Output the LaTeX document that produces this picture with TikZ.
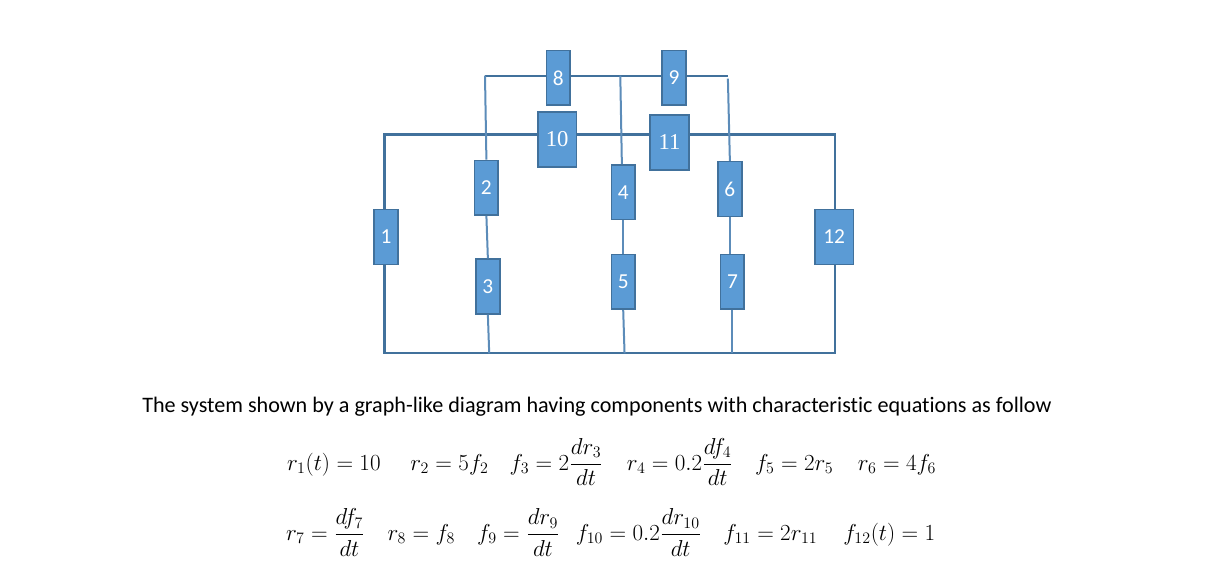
\documentclass[tikz,border=0pt]{standalone}
\usepackage{amsmath}
\usepackage{fontspec}
\setmainfont[Ligatures=NoCommon]{Carlito}
\newfontfamily\numserif{Liberation Serif}
\usepackage{tikz}
\usetikzlibrary{positioning}
\definecolor{dFill}{RGB}{91,155,213}
\definecolor{dLine}{RGB}{65,113,156}
\definecolor{dWire}{RGB}{92,140,185}
\tikzset{
  comp/.style={rectangle, draw=dLine, fill=dFill, line width=1.2pt, text=white,
               minimum height=41pt, minimum width=17.8pt, align=center,
               inner sep=0pt, font=\fontsize{16}{18}\selectfont},
  compw/.style={comp, minimum width=29pt, font=\fontsize{17}{19}\selectfont\numserif},
  wire/.style={draw=dLine, line width=1.6pt},
  wirel/.style={draw=dWire, line width=1.5pt},
  eqn/.style={inner sep=0pt, outer sep=0pt, font=\fontsize{17.8}{20}\selectfont},
  captxt/.style={inner sep=0pt, font=\fontsize{16.6}{20}\selectfont},
}
\begin{document}
\begin{tikzpicture}[x=0.75pt, y=-0.75pt]
  \useasboundingbox (0,0) rectangle (1214,574);
  \node[comp] (b1) at (386,237) {1};
  \node[comp, right=56.3pt of b1, yshift=37pt]    (b2) {2};
  \node[comp, below=32pt of b2, xshift=1.1pt]     (b3) {3};
  \node[comp, right=83.6pt of b2, yshift=-3.5pt]  (b4) {4};
  \node[comp, below=25pt of b4]                   (b5) {5};
  \node[comp, right=61pt of b4, yshift=2.5pt]     (b6) {6};
  \node[comp, below=27.5pt of b6, xshift=1.9pt]   (b7) {7};
  \node[compw, right=53.6pt of b6, yshift=-36pt, font=\fontsize{16}{18}\selectfont] (b12) {12};
  \node[compw, right=28.5pt of b2, yshift=36.2pt] (b10) {10};
  \node[compw, right=54.1pt of b10, yshift=-2.25pt] (b11) {11};
  \node[comp, above=4pt of b10, xshift=0.9pt]     (b8) {8};
  \node[comp, right=67.8pt of b8]                 (b9) {9};
  % frame corners
  \coordinate (tl) at (384.5,134.5);
  \coordinate (tr) at (834.7,134.5);
  \coordinate (bl) at (384.5,353.3);
  \coordinate (br) at (834.7,353.3);
  \coordinate (ul) at (485,75.7);
  \coordinate (um) at (620.3,75.7);
  \coordinate (ur) at (727.7,75.7);
  \coordinate (us) at (727.9,78.7);
  % outer loop
  \draw[wire] (b1.north -| tl) -- (tl) -- (tl -| b10.west);
  \draw[wire] (tl -| b10.east) -- (tl -| b11.west);
  \draw[wire] (tl -| b11.east) -- (tr) -- (tr |- b12.north);
  \draw[wire] (tl |- b1.south) -- (bl) -- (br) -- (br |- b12.south);
  % upper line
  \draw[wire] (ul) -- (ul -| b8.west);
  \draw[wire] (ul -| b8.east) -- (ul -| b9.west);
  \draw[wire] (ul -| b9.east) -- (ur);
  % branches
  \draw[wirel] (ul) -- (b2.north);
  \draw[wirel] (um) -- ([xshift=-1pt]b4.north);
  \draw[wirel] (us) -- (b6.north);
  \draw[wirel] (b2.south) -- (b3.north);
  \draw[wirel] ([xshift=-0.5pt]b4.south) -- ([xshift=-0.5pt]b5.north);
  \draw[wirel] (b6.south) -- (b6.south |- b7.north);
  \draw[wirel] (b3.south) -- ([xshift=1pt]b3.south |- bl);
  \draw[wirel] (b5.south) -- ([xshift=1pt]b5.south |- bl);
  \draw[wirel] (b7.south) -- (b7.south |- bl);
  % text
  \node[captxt, anchor=base west] (caption) at (142,412) {The system shown by a graph-like diagram having components with characteristic equations as follow};
  \node[eqn, anchor=base west] (e1) at (287,470) {$r_1(t)=10$};
  \node[eqn, base right=22.3pt of e1] (e2) {$r_2=5f_2$};
  \node[eqn, base right=15.8pt of e2] (e3) {$f_3=2\dfrac{dr_3}{dt}$};
  \node[eqn, base right=18pt of e3] (e4) {$r_4=0.2\dfrac{df_4}{dt}$};
  \node[eqn, base right=16.5pt of e4] (e5) {$f_5=2r_5$};
  \node[eqn, base right=18.5pt of e5] (e6) {$r_6=4f_6$};
  \node[eqn, anchor=base west] (e7) at (286,540.5) {$r_7=\dfrac{df_7}{dt}$};
  \node[eqn, base right=17pt of e7] (e8) {$r_8=f_8$};
  \node[eqn, base right=16.5pt of e8] (e9) {$f_9=\dfrac{dr_9}{dt}$};
  \node[eqn, base right=12pt of e9] (e10) {$f_{10}=0.2\dfrac{dr_{10}}{dt}$};
  \node[eqn, base right=16.5pt of e10] (e11) {$f_{11}=2r_{11}$};
  \node[eqn, base right=19.5pt of e11] (e12) {$f_{12}(t)=1$};
\end{tikzpicture}
\end{document}
